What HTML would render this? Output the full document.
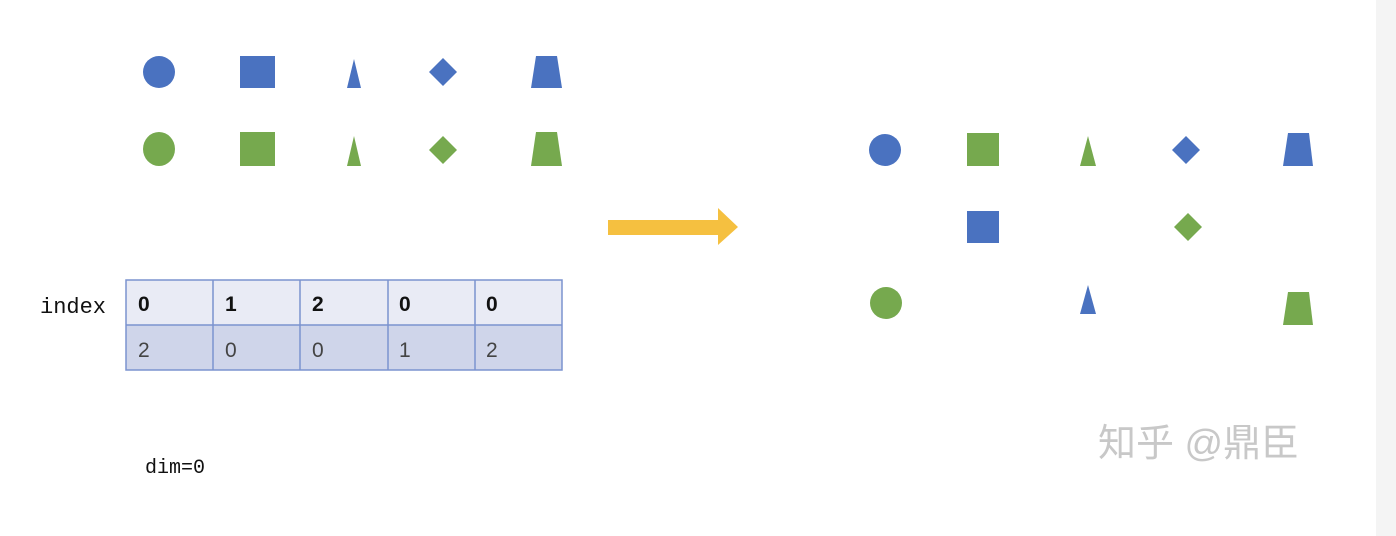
<!DOCTYPE html>
<html><head><meta charset="utf-8"><style>
body{margin:0;width:1396px;height:536px;background:#fff;overflow:hidden;position:relative}
</style></head><body>
<svg width="1396" height="536" style="position:absolute;left:0;top:0">
<rect x="1376" y="0" width="20" height="536" fill="#f4f4f4"/>
<g fill="#4a72c0">
<ellipse cx="159" cy="72" rx="16" ry="16"/>
<rect x="240" y="56" width="35" height="32"/>
<polygon points="354,59 361,88 347,88"/>
<polygon points="443,58 457,72 443,86 429,72"/>
<polygon points="536,56 557,56 562,88 531,88"/>
</g>
<g fill="#76a94e">
<ellipse cx="159" cy="149" rx="16" ry="17"/>
<rect x="240" y="132" width="35" height="34"/>
<polygon points="354,136 361,166 347,166"/>
<polygon points="443,136 457,150 443,164 429,150"/>
<polygon points="536,132 557,132 562,166 531,166"/>
</g>
<ellipse cx="885" cy="150" rx="16" ry="16" fill="#4a72c0"/>
<rect x="967" y="133" width="32" height="33" fill="#76a94e"/>
<polygon points="1088,136 1096,166 1080,166" fill="#76a94e"/>
<polygon points="1186,136 1200,150 1186,164 1172,150" fill="#4a72c0"/>
<polygon points="1288,133 1309,133 1313,166 1283,166" fill="#4a72c0"/>
<rect x="967" y="211" width="32" height="32" fill="#4a72c0"/>
<polygon points="1188,213 1202,227 1188,241 1174,227" fill="#76a94e"/>
<ellipse cx="886" cy="303" rx="16" ry="16" fill="#76a94e"/>
<polygon points="1088,285 1096,314 1080,314" fill="#4a72c0"/>
<polygon points="1288,292 1309,292 1313,325 1283,325" fill="#76a94e"/>
<polygon points="608,220 718,220 718,208 738,227 718,245 718,235 608,235" fill="#f5c040"/>
<rect x="126" y="280" width="436" height="45" fill="#e9ebf5"/>
<rect x="126" y="325" width="436" height="45" fill="#cfd5ea"/>
<g stroke="#7b93cf" stroke-width="1.5" fill="none">
<rect x="126" y="280" width="436" height="90"/>
<line x1="126" y1="325" x2="562" y2="325"/>
<line x1="213" y1="280" x2="213" y2="370"/>
<line x1="300" y1="280" x2="300" y2="370"/>
<line x1="388" y1="280" x2="388" y2="370"/>
<line x1="475" y1="280" x2="475" y2="370"/>
</g>
<g font-family="Liberation Sans, sans-serif" font-size="21">
<g font-weight="bold" fill="#111">
<text x="138" y="311">0</text><text x="225" y="311">1</text><text x="312" y="311">2</text><text x="399" y="311">0</text><text x="486" y="311">0</text>
</g>
<g fill="#444">
<text x="138" y="357">2</text><text x="225" y="357">0</text><text x="312" y="357">0</text><text x="399" y="357">1</text><text x="486" y="357">2</text>
</g>
</g>
<text x="40" y="313" font-family="Liberation Mono, monospace" font-size="22" fill="#111">index</text>
<text x="145" y="473" font-family="Liberation Mono, monospace" font-size="20" fill="#111">dim=0</text>
<text x="1098" y="456" font-family="Liberation Sans, Noto Sans CJK SC, sans-serif" font-size="38" fill="#c8c8c8">知乎 @鼎臣</text>
</svg>
</body></html>
